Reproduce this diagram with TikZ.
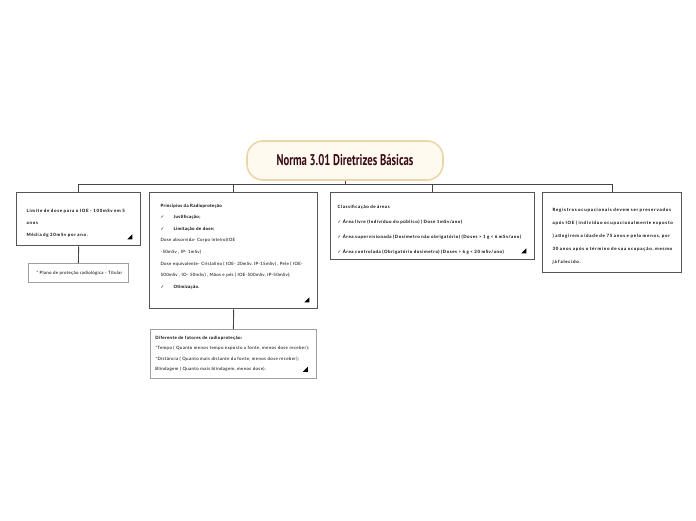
\documentclass[tikz,border=0pt]{standalone}
\usepackage{fontspec}
\setmainfont{Lato}[LetterSpace=6]
\newfontfamily\titlefont[FakeStretch=0.69]{PT Sans}
\newfontfamily\symfont{DejaVu Sans}
\newcommand\chk{{\symfont ✓}}
\definecolor{boxgray}{HTML}{555555}
\definecolor{subgray}{HTML}{A0A0A0}
\definecolor{linegray}{HTML}{444444}
\definecolor{titlefill}{HTML}{FFFAF0}
\definecolor{titledraw}{HTML}{ECD6A6}
\definecolor{titletext}{HTML}{3A0A16}
\newcommand\grip[1]{\fill ([shift={(-9,7)}]#1.south east) -- ++(0,5) -- ++(-5,-5) -- cycle;}
\begin{document}
\begin{tikzpicture}[x=1pt,y=1pt,
  topic/.style={draw=boxgray,line width=1.3pt,fill=white,anchor=north west,inner ysep=0pt,align=left},
  subtopic/.style={draw=subgray,line width=0.8pt,fill=white,anchor=north west,inner ysep=0pt,align=left},
  link/.style={draw=linegray,line width=0.9pt}]
\useasboundingbox (0,0) rectangle (696,520);
% central topic
\node[draw=titledraw,line width=1.6pt,fill=titlefill,rounded corners=16pt,
  minimum width=196pt,minimum height=39pt,text=titletext,
  font={\titlefont\bfseries\fontsize{15.5}{16}\selectfont}] (title) at (345,359.5)
  {Norma 3.01 Diretrizes Básicas};
% main topics
\node[topic,inner xsep=10pt,text width=104pt,minimum height=53pt,
  font={\bfseries\addfontfeature{LetterSpace=16}\fontsize{4.4}{12}\selectfont}] (lim) at (16,328)
  {\rule{0pt}{11.5pt}\mbox{Limite de dose para o IOE - 100mSv em 5}\\anos\\Média dg 20mSv por ano.};
\node[topic,inner xsep=11pt,text width=146pt,minimum height=116pt,
  font={\fontsize{4.4}{11.6}\selectfont}] (princ) at (149,328)
  {\textbf{Principios da Radioproteção}\\
   \makebox[13pt][l]{\chk}\textbf{Justificação;}\\
   \makebox[13pt][l]{\chk}\textbf{Limitação de dose;}\\
   Dose absorvida- Corpo inteiro(IOE\\
   -50mSv , IP- 1mSv)\\
   \mbox{Dose equivalente- Cristalino ( IOE- 20mSv, IP-15mSv) , Pele ( IOE-}\\
   \mbox{500mSv , IO- 50mSv) , Mãos e pés ( IOE-500mSv, IP-50mSv);}\\
   \makebox[13pt][l]{\chk}\textbf{Otimização.}\rule[-9pt]{0pt}{9pt}};
\node[topic,inner xsep=7pt,text width=190pt,minimum height=67pt,
  font={\bfseries\addfontfeature{LetterSpace=12.5}\fontsize{4.4}{15}\selectfont}] (areas) at (330,328)
  {\rule{0pt}{10.5pt}Classificação de áreas\\
   \chk{} Área livre (Indivíduo do público) ( Dose 1mSv/ano)\\
   \mbox{\chk{} Área supervisionada (Dosimetro não obrigatório) (Doses > 1 g < 6 mSv/ano)}\\
   \mbox{\chk{} Área controlada (Obrigatório dosimetro) (Doses > 6 g < 20 mSv/ano)}};
\node[topic,inner xsep=10pt,text width=119pt,minimum height=80pt,
  font={\bfseries\addfontfeature{LetterSpace=17}\fontsize{4.4}{13}\selectfont}] (reg) at (542,328)
  {\rule{0pt}{9.5pt}\mbox{Registros ocupacionais devem ser preservados}\\
   \mbox{após IOE ( individuo ocupacionalmente exposto}\\
   \mbox{) atingirem a idade de 75 anos e pelo menos, por}\\
   \mbox{30 anos após o término de sua ocupação, mesmo}\\
   já falecido.};
% subtopics
\node[subtopic,inner xsep=8pt,text width=84pt,minimum height=19pt,
  font={\fontsize{4.4}{10}\selectfont}] (plano) at (28,257)
  {\mbox{* Plano de proteção radiológica - Titular}};
\node[subtopic,inner xsep=5pt,text width=156pt,minimum height=49pt,
  font={\addfontfeature{LetterSpace=8}\fontsize{4.4}{10.5}\selectfont}] (fatores) at (150,191)
  {\textbf{Diferente de fatores de radioproteção:}\\
   \mbox{*Tempo ( Quanto menos tempo exposto a fonte, menos dose receber);}\\
   \mbox{*Distância ( Quanto mais distante da fonte, menos dose receber);}\\
   *Blindagem ( Quanto mais blindagem, menos dose).};
% connectors
\coordinate (bus) at (345,336);
\draw[link] (title.south) -- (bus);
\draw[link] (lim.north) -- (lim.north |- bus) -- (reg.north |- bus) -- (reg.north);
\draw[link] (princ.north) -- (princ.north |- bus);
\draw[link] (areas.north) -- (areas.north |- bus);
\draw[link] (lim.south) -- (plano.north);
\draw[link] (princ.south) -- (fatores.north);
% corner marks
\grip{lim}
\grip{princ}
\grip{areas}
\grip{fatores}
\end{tikzpicture}
\end{document}
